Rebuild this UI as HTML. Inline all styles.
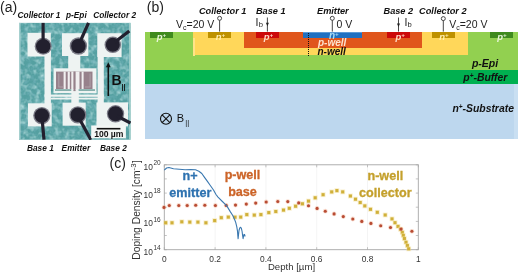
<!DOCTYPE html>
<html><head><meta charset="utf-8">
<style>
html,body{margin:0;padding:0;background:#fff;}
body{width:520px;height:273px;position:relative;overflow:hidden;font-family:"Liberation Sans",Arial,sans-serif;}
.a{position:absolute;white-space:nowrap;line-height:1;}
.lbl{font-weight:bold;font-style:italic;color:#111;}
.tk{font-family:"Liberation Sans",Arial,sans-serif;font-size:8.4px;fill:#333;}
.tks{font-family:"Liberation Sans",Arial,sans-serif;font-size:6.5px;fill:#333;}
.an{font-family:"Liberation Sans",Arial,sans-serif;font-weight:bold;font-size:12.6px;stroke-width:0.3px;}
.ly{position:absolute;}
</style></head><body>
<!-- panel labels -->
<div class="a" style="left:0px;top:-0.5px;font-size:14px;color:#222;">(a)</div>
<div class="a" style="left:146.8px;top:-0.3px;font-size:14px;color:#222;">(b)</div>
<div class="a" style="left:109.6px;top:156px;font-size:14px;color:#222;">(c)</div>

<!-- (a) labels -->
<div class="a lbl" style="left:17.6px;top:11.1px;font-size:8.3px;">Collector 1</div>
<div class="a lbl" style="left:66px;top:11.1px;font-size:8.3px;">p-Epi</div>
<div class="a lbl" style="left:93.2px;top:11.1px;font-size:8.3px;">Collector 2</div>
<div class="a lbl" style="left:27px;top:143.9px;font-size:8.3px;">Base 1</div>
<div class="a lbl" style="left:61.6px;top:143.9px;font-size:8.3px;">Emitter</div>
<div class="a lbl" style="left:100px;top:143.9px;font-size:8.3px;">Base 2</div>

<!-- (a) micrograph -->
<svg class="a" style="left:19px;top:22px;filter:blur(0.35px)" width="112" height="118" viewBox="19 22 112 118">
<defs>
<filter id="tx" x="0" y="0" width="100%" height="100%">
<feTurbulence type="fractalNoise" baseFrequency="0.2" numOctaves="2" seed="3" result="n"/>
<feColorMatrix in="n" type="matrix" values="0 0 0 0 0.62  0 0 0 0 0.85  0 0 0 0 0.86  0 0 0 2.2 -0.95" result="c"/>
<feComposite in="c" in2="SourceGraphic" operator="in"/>
</filter>
<filter id="tx2" x="0" y="0" width="100%" height="100%">
<feTurbulence type="fractalNoise" baseFrequency="0.25" numOctaves="2" seed="11" result="n"/>
<feColorMatrix in="n" type="matrix" values="0 0 0 0 0.17  0 0 0 0 0.45  0 0 0 0 0.5  0 0 0 2.2 -0.95" result="c"/>
<feComposite in="c" in2="SourceGraphic" operator="in"/>
</filter>
</defs>
<rect x="19" y="22.9" width="111.5" height="116.8" fill="#55a0a1"/>
<rect x="19" y="22.9" width="111.5" height="116.8" fill="#55a0a1" filter="url(#tx)" opacity="0.75"/>
<rect x="19" y="22.9" width="111.5" height="116.8" fill="#55a0a1" filter="url(#tx2)" opacity="0.7"/>
<rect x="19" y="22.9" width="1.5" height="116.8" fill="#a6d0cf"/>
<rect x="129.2" y="22.9" width="1.3" height="116.8" fill="#a9d3ce"/>
<g fill="#eef3f2">
<rect x="27.5" y="32.8" width="23.3" height="23.7"/>
<rect x="44.5" y="50" width="6.4" height="55"/>
<rect x="62" y="33.2" width="26.3" height="22.8"/>
<rect x="68.2" y="50" width="12.1" height="20"/>
<rect x="97.3" y="33.2" width="24.3" height="23.8"/>
<rect x="97.6" y="50" width="6.2" height="54"/>
<rect x="53.5" y="68.3" width="43" height="24.9"/>
<rect x="44.5" y="94.5" width="28" height="2.3"/>
<rect x="77.9" y="94.5" width="25.9" height="2.3"/>
<rect x="50.8" y="97.6" width="21.7" height="1.9"/>
<rect x="77.9" y="97.6" width="21.1" height="1.9"/>
<rect x="71.3" y="88" width="7.5" height="16"/>
<rect x="27.9" y="103.3" width="23.8" height="23.1"/>
<rect x="62.6" y="102.6" width="23.1" height="23.1"/>
<rect x="96.5" y="102.4" width="31.5" height="24"/>
</g>
<rect x="56" y="71.6" width="36.5" height="17.4" fill="#97818b"/>
<rect x="73.4" y="71.6" width="2.2" height="19.5" fill="#97818b"/>
<g fill="#f1eff0">
<rect x="63.6" y="71.6" width="2.1" height="18"/>
<rect x="67.7" y="71.6" width="2.1" height="18"/>
<rect x="71.3" y="71.6" width="2.1" height="18"/>
<rect x="75.6" y="71.6" width="3.9" height="18"/>
<rect x="81.6" y="71.6" width="2" height="18"/>
</g>
<g fill="#afa0a8">
<rect x="58.3" y="73.5" width="1" height="13.5"/>
<rect x="58.3" y="86.5" width="5.3" height="1"/>
<rect x="89.6" y="73.5" width="1" height="13.5"/>
<rect x="85" y="86.5" width="5.6" height="1"/>
</g>
<g fill="#6d9f9b">
<rect x="55" y="89.3" width="16.3" height="1.5"/>
<rect x="78.6" y="89.3" width="16.4" height="1.5"/>
</g>
<g fill="#7a7a86">
<circle cx="43.2" cy="46.3" r="8.5"/>
<circle cx="78.4" cy="46" r="8.7"/>
<circle cx="112.8" cy="44.8" r="8.3"/>
<circle cx="41.8" cy="115.6" r="8.6"/>
<circle cx="77.8" cy="114.8" r="8.6"/>
<circle cx="115.5" cy="113.8" r="8.7"/>
</g>
<g fill="#22202e">
<circle cx="43.2" cy="46.3" r="7.2"/>
<circle cx="78.4" cy="46" r="7.3"/>
<circle cx="112.8" cy="44.8" r="7.0"/>
<circle cx="41.8" cy="115.6" r="7.3"/>
<circle cx="77.8" cy="114.8" r="7.3"/>
<circle cx="115.5" cy="113.8" r="7.5"/>
</g>
<g stroke="#22202e" stroke-width="3.2" stroke-linecap="butt" fill="none">
<line x1="43.1" y1="22.9" x2="43.1" y2="40"/>
<line x1="88.5" y1="22.9" x2="80" y2="42"/>
<line x1="129.3" y1="31" x2="115" y2="42"/>
<line x1="42" y1="118" x2="44" y2="139.7"/>
<line x1="79" y1="118" x2="90.8" y2="139.7"/>
<line x1="117" y1="116" x2="130.5" y2="123"/>
</g>
<line x1="108.3" y1="66" x2="108.3" y2="96" stroke="#111" stroke-width="1.6"/>
<polygon points="108.3,62.3 105.9,67.3 110.7,67.3" fill="#111"/>
<text x="111.6" y="84.5" font-family="Liberation Sans, Arial, sans-serif" font-weight="bold" font-size="14" fill="#111">B</text>
<text x="121.6" y="89.4" font-family="Liberation Sans, Arial, sans-serif" font-weight="bold" font-size="7" fill="#111">||</text>
<rect x="91.2" y="125.5" width="34.7" height="12.8" fill="#f4f7f5"/>
<rect x="96.7" y="127.9" width="23.7" height="1.6" fill="#111"/>
<text x="108.8" y="136.6" text-anchor="middle" font-family="Liberation Sans, Arial, sans-serif" font-weight="bold" font-size="8.6" fill="#111">100 µm</text>
</svg>

<!-- (b) cross section -->
<div class="ly" style="left:144.8px;top:31.6px;width:373.6px;height:38.6px;background:#92d050;"></div>
<div class="ly" style="left:144.8px;top:70.2px;width:373.6px;height:14.1px;background:#00b050;"></div>
<div class="ly" style="left:145px;top:84.3px;width:373.3px;height:54.3px;background:#bdd7ee;"></div>
<div class="ly" style="left:514px;top:84.3px;width:4.3px;height:54.3px;background:#c9dff2;"></div>
<div class="ly" style="left:193px;top:31.6px;width:274.8px;height:23.9px;background:#ffd75a;"></div>
<div class="ly" style="left:193px;top:38px;width:2px;height:17.5px;background:#ffe488;"></div>
<div class="ly" style="left:244.1px;top:31.6px;width:177.9px;height:16px;background:#e0561c;"></div>
<div class="ly" style="left:150.2px;top:31.6px;width:22.7px;height:6.5px;background:#3f8a1e;"></div>
<div class="ly" style="left:490.4px;top:31.6px;width:23.1px;height:6.5px;background:#3f8a1e;"></div>
<div class="ly" style="left:208.1px;top:31.6px;width:23.4px;height:6.5px;background:#be9100;"></div>
<div class="ly" style="left:431.9px;top:31.6px;width:22.7px;height:6.6px;background:#be9100;"></div>
<div class="ly" style="left:256.2px;top:31.6px;width:23px;height:6.5px;background:#cc0a0a;"></div>
<div class="ly" style="left:387px;top:31.6px;width:22.7px;height:6.5px;background:#cc0a0a;"></div>
<div class="ly" style="left:303.2px;top:31.6px;width:59px;height:6px;background:#1f70c1;"></div>
<div class="ly" style="left:303.2px;top:31.6px;width:59px;height:1px;background:#5c9ad6;"></div>
<!-- dotted line -->
<div class="ly" style="left:308px;top:32.5px;width:0;height:23px;border-left:1.2px dotted #111;"></div>

<!-- (b) labels -->
<div class="a lbl" style="left:198.89999999999998px;top:6.7px;font-size:9.2px;">Collector 1</div>
<div class="a lbl" style="left:255.89999999999998px;top:6.7px;font-size:9.2px;">Base 1</div>
<div class="a lbl" style="left:317.0px;top:6.7px;font-size:9.2px;">Emitter</div>
<div class="a lbl" style="left:383.5px;top:6.7px;font-size:9.2px;">Base 2</div>
<div class="a lbl" style="left:419.09999999999997px;top:6.7px;font-size:9.2px;">Collector 2</div>

<div class="a" style="left:176px;top:18.5px;font-size:10.5px;color:#222;">V<sub style="font-size:7px;vertical-align:-2px">c</sub>=20 V</div>
<div class="a" style="left:449.2px;top:18.5px;font-size:10.5px;color:#222;">V<sub style="font-size:7px;vertical-align:-2px">c</sub>=20 V</div>
<div class="a" style="left:336.5px;top:18.5px;font-size:10.5px;color:#222;">0 V</div>
<div class="a" style="left:255.6px;top:16.8px;font-size:10.5px;color:#222;">I<sub style="font-size:7.6px;vertical-align:-1.6px;margin-left:0.2px">b</sub></div>
<div class="a" style="left:404.5px;top:16.8px;font-size:10.5px;color:#222;">I<sub style="font-size:7.6px;vertical-align:-1.6px;margin-left:0.2px">b</sub></div>

<svg class="a" style="left:0;top:0" width="520" height="140" viewBox="0 0 520 140">
<g stroke="#333" stroke-width="0.9" fill="none">
<circle cx="219.6" cy="18.3" r="2"/><line x1="219.6" y1="20.3" x2="219.6" y2="31.6"/>
<circle cx="332.3" cy="18.3" r="2"/><line x1="332.3" y1="20.3" x2="332.3" y2="31.6"/>
<circle cx="443.3" cy="18.6" r="2"/><line x1="443.3" y1="20.6" x2="443.3" y2="31.6"/>
<line x1="267.4" y1="17.5" x2="267.4" y2="31.6"/>
<line x1="398.5" y1="17.5" x2="398.5" y2="31.6"/>
</g>
<g fill="#222">
<polygon points="265.9,22.8 268.9,22.8 267.4,26.2"/>
<polygon points="397,23.5 400,23.5 398.5,26.9"/>
</g>
<circle cx="166" cy="118.7" r="5.5" fill="none" stroke="#111" stroke-width="1.1"/>
<line x1="162.1" y1="114.8" x2="169.9" y2="122.6" stroke="#111" stroke-width="1.1"/>
<line x1="169.9" y1="114.8" x2="162.1" y2="122.6" stroke="#111" stroke-width="1.1"/>
</svg>
<div class="a" style="left:176.8px;top:113.3px;font-size:11px;color:#111;">B<sub style="font-size:7.5px;vertical-align:-3px;margin-left:1.2px">||</sub></div>

<!-- labels inside layers -->
<div class="a lbl" style="left:156.8px;top:32px;font-size:9.5px;color:#eaf6dc;">p<sup style="font-size:6px;vertical-align:3px">+</sup></div>
<div class="a lbl" style="left:497.3px;top:32px;font-size:9.5px;color:#eaf6dc;">p<sup style="font-size:6px;vertical-align:3px">+</sup></div>
<div class="a lbl" style="left:215.8px;top:31.5px;font-size:9.5px;color:#ffeeb0;">n<sup style="font-size:6px;vertical-align:3px">+</sup></div>
<div class="a lbl" style="left:439.3px;top:31.5px;font-size:9.5px;color:#ffeeb0;">n<sup style="font-size:6px;vertical-align:3px">+</sup></div>
<div class="a lbl" style="left:263.8px;top:32px;font-size:9.5px;color:#ffdcc8;">p<sup style="font-size:6px;vertical-align:3px">+</sup></div>
<div class="a lbl" style="left:395.4px;top:32px;font-size:9.5px;color:#ffdcc8;">p<sup style="font-size:6px;vertical-align:3px">+</sup></div>
<div class="a lbl" style="left:329px;top:30.5px;font-size:10px;color:#a8dcf5;">n<sup style="font-size:6px;vertical-align:3px">+</sup></div>
<div class="a lbl" style="left:318px;top:37.5px;font-size:10px;color:#fde2cf;">p-well</div>
<div class="a lbl" style="left:317.5px;top:46.5px;font-size:10px;color:#111;">n-well</div>
<div class="a lbl" style="left:471.9px;top:57.8px;font-size:10.5px;color:#111;">p-Epi</div>
<div class="a lbl" style="left:463.3px;top:73.4px;font-size:10.4px;color:#111;">p<sup style="font-size:6.5px;vertical-align:3px">+</sup>-Buffer</div>
<div class="a lbl" style="left:452.4px;top:104px;font-size:10.4px;color:#111;">n<sup style="font-size:6.5px;vertical-align:3px">+</sup>-Substrate</div>

<!-- (c) plot -->
<svg class="a" style="left:0;top:140px" width="520" height="133" viewBox="0 140 520 133">
<line x1="215.1" y1="164.8" x2="215.1" y2="249.7" stroke="#f1f1f1" stroke-width="0.8"/>
<line x1="265.9" y1="164.8" x2="265.9" y2="249.7" stroke="#f1f1f1" stroke-width="0.8"/>
<line x1="316.7" y1="164.8" x2="316.7" y2="249.7" stroke="#f1f1f1" stroke-width="0.8"/>
<line x1="367.5" y1="164.8" x2="367.5" y2="249.7" stroke="#f1f1f1" stroke-width="0.8"/>
<line x1="164.3" y1="249.7" x2="164.3" y2="247.2" stroke="#aaa" stroke-width="0.7"/>
<line x1="164.3" y1="164.8" x2="164.3" y2="167.3" stroke="#aaa" stroke-width="0.7"/>
<line x1="215.1" y1="249.7" x2="215.1" y2="247.2" stroke="#aaa" stroke-width="0.7"/>
<line x1="215.1" y1="164.8" x2="215.1" y2="167.3" stroke="#aaa" stroke-width="0.7"/>
<line x1="265.9" y1="249.7" x2="265.9" y2="247.2" stroke="#aaa" stroke-width="0.7"/>
<line x1="265.9" y1="164.8" x2="265.9" y2="167.3" stroke="#aaa" stroke-width="0.7"/>
<line x1="316.7" y1="249.7" x2="316.7" y2="247.2" stroke="#aaa" stroke-width="0.7"/>
<line x1="316.7" y1="164.8" x2="316.7" y2="167.3" stroke="#aaa" stroke-width="0.7"/>
<line x1="367.5" y1="249.7" x2="367.5" y2="247.2" stroke="#aaa" stroke-width="0.7"/>
<line x1="367.5" y1="164.8" x2="367.5" y2="167.3" stroke="#aaa" stroke-width="0.7"/>
<line x1="418.3" y1="249.7" x2="418.3" y2="247.2" stroke="#aaa" stroke-width="0.7"/>
<line x1="418.3" y1="164.8" x2="418.3" y2="167.3" stroke="#aaa" stroke-width="0.7"/>
<line x1="164.3" y1="249.7" x2="166.8" y2="249.7" stroke="#aaa" stroke-width="0.7"/>
<line x1="418.3" y1="249.7" x2="415.8" y2="249.7" stroke="#aaa" stroke-width="0.7"/>
<line x1="164.3" y1="235.5" x2="166.8" y2="235.5" stroke="#aaa" stroke-width="0.7"/>
<line x1="418.3" y1="235.5" x2="415.8" y2="235.5" stroke="#aaa" stroke-width="0.7"/>
<line x1="164.3" y1="221.4" x2="166.8" y2="221.4" stroke="#aaa" stroke-width="0.7"/>
<line x1="418.3" y1="221.4" x2="415.8" y2="221.4" stroke="#aaa" stroke-width="0.7"/>
<line x1="164.3" y1="207.2" x2="166.8" y2="207.2" stroke="#aaa" stroke-width="0.7"/>
<line x1="418.3" y1="207.2" x2="415.8" y2="207.2" stroke="#aaa" stroke-width="0.7"/>
<line x1="164.3" y1="193.1" x2="166.8" y2="193.1" stroke="#aaa" stroke-width="0.7"/>
<line x1="418.3" y1="193.1" x2="415.8" y2="193.1" stroke="#aaa" stroke-width="0.7"/>
<line x1="164.3" y1="178.9" x2="166.8" y2="178.9" stroke="#aaa" stroke-width="0.7"/>
<line x1="418.3" y1="178.9" x2="415.8" y2="178.9" stroke="#aaa" stroke-width="0.7"/>
<line x1="164.3" y1="164.8" x2="166.8" y2="164.8" stroke="#aaa" stroke-width="0.7"/>
<line x1="418.3" y1="164.8" x2="415.8" y2="164.8" stroke="#aaa" stroke-width="0.7"/>
<rect x="164.3" y="164.8" width="254.0" height="84.9" fill="none" stroke="#a6a6a6" stroke-width="0.9"/>
<rect x="163.30" y="220.40" width="4.8" height="4.8" fill="#f4e09a" opacity="0.5"/>
<rect x="164.15" y="221.25" width="3.1" height="3.1" fill="#d0b03a"/>
<rect x="169.60" y="220.40" width="4.8" height="4.8" fill="#f4e09a" opacity="0.5"/>
<rect x="170.45" y="221.25" width="3.1" height="3.1" fill="#d0b03a"/>
<rect x="179.40" y="219.40" width="4.8" height="4.8" fill="#f4e09a" opacity="0.5"/>
<rect x="180.25" y="220.25" width="3.1" height="3.1" fill="#d0b03a"/>
<rect x="187.40" y="219.70" width="4.8" height="4.8" fill="#f4e09a" opacity="0.5"/>
<rect x="188.25" y="220.55" width="3.1" height="3.1" fill="#d0b03a"/>
<rect x="195.50" y="219.70" width="4.8" height="4.8" fill="#f4e09a" opacity="0.5"/>
<rect x="196.35" y="220.55" width="3.1" height="3.1" fill="#d0b03a"/>
<rect x="203.50" y="220.40" width="4.8" height="4.8" fill="#f4e09a" opacity="0.5"/>
<rect x="204.35" y="221.25" width="3.1" height="3.1" fill="#d0b03a"/>
<rect x="212.30" y="218.20" width="4.8" height="4.8" fill="#f4e09a" opacity="0.5"/>
<rect x="213.15" y="219.05" width="3.1" height="3.1" fill="#d0b03a"/>
<rect x="218.90" y="215.30" width="4.8" height="4.8" fill="#f4e09a" opacity="0.5"/>
<rect x="219.75" y="216.15" width="3.1" height="3.1" fill="#d0b03a"/>
<rect x="225.90" y="214.70" width="4.8" height="4.8" fill="#f4e09a" opacity="0.5"/>
<rect x="226.75" y="215.55" width="3.1" height="3.1" fill="#d0b03a"/>
<rect x="232.60" y="214.80" width="4.8" height="4.8" fill="#f4e09a" opacity="0.5"/>
<rect x="233.45" y="215.65" width="3.1" height="3.1" fill="#d0b03a"/>
<rect x="238.30" y="214.70" width="4.8" height="4.8" fill="#f4e09a" opacity="0.5"/>
<rect x="239.15" y="215.55" width="3.1" height="3.1" fill="#d0b03a"/>
<rect x="244.40" y="212.20" width="4.8" height="4.8" fill="#f4e09a" opacity="0.5"/>
<rect x="245.25" y="213.05" width="3.1" height="3.1" fill="#d0b03a"/>
<rect x="251.90" y="212.70" width="4.8" height="4.8" fill="#f4e09a" opacity="0.5"/>
<rect x="252.75" y="213.55" width="3.1" height="3.1" fill="#d0b03a"/>
<rect x="258.50" y="212.20" width="4.8" height="4.8" fill="#f4e09a" opacity="0.5"/>
<rect x="259.35" y="213.05" width="3.1" height="3.1" fill="#d0b03a"/>
<rect x="266.40" y="210.20" width="4.8" height="4.8" fill="#f4e09a" opacity="0.5"/>
<rect x="267.25" y="211.05" width="3.1" height="3.1" fill="#d0b03a"/>
<rect x="273.40" y="209.10" width="4.8" height="4.8" fill="#f4e09a" opacity="0.5"/>
<rect x="274.25" y="209.95" width="3.1" height="3.1" fill="#d0b03a"/>
<rect x="281.10" y="207.70" width="4.8" height="4.8" fill="#f4e09a" opacity="0.5"/>
<rect x="281.95" y="208.55" width="3.1" height="3.1" fill="#d0b03a"/>
<rect x="286.90" y="205.90" width="4.8" height="4.8" fill="#f4e09a" opacity="0.5"/>
<rect x="287.75" y="206.75" width="3.1" height="3.1" fill="#d0b03a"/>
<rect x="293.20" y="203.80" width="4.8" height="4.8" fill="#f4e09a" opacity="0.5"/>
<rect x="294.05" y="204.65" width="3.1" height="3.1" fill="#d0b03a"/>
<rect x="300.00" y="201.40" width="4.8" height="4.8" fill="#f4e09a" opacity="0.5"/>
<rect x="300.85" y="202.25" width="3.1" height="3.1" fill="#d0b03a"/>
<rect x="306.10" y="198.70" width="4.8" height="4.8" fill="#f4e09a" opacity="0.5"/>
<rect x="306.95" y="199.55" width="3.1" height="3.1" fill="#d0b03a"/>
<rect x="312.80" y="195.40" width="4.8" height="4.8" fill="#f4e09a" opacity="0.5"/>
<rect x="313.65" y="196.25" width="3.1" height="3.1" fill="#d0b03a"/>
<rect x="320.70" y="192.30" width="4.8" height="4.8" fill="#f4e09a" opacity="0.5"/>
<rect x="321.55" y="193.15" width="3.1" height="3.1" fill="#d0b03a"/>
<rect x="329.30" y="189.50" width="4.8" height="4.8" fill="#f4e09a" opacity="0.5"/>
<rect x="330.15" y="190.35" width="3.1" height="3.1" fill="#d0b03a"/>
<rect x="334.50" y="188.20" width="4.8" height="4.8" fill="#f4e09a" opacity="0.5"/>
<rect x="335.35" y="189.05" width="3.1" height="3.1" fill="#d0b03a"/>
<rect x="340.30" y="189.50" width="4.8" height="4.8" fill="#f4e09a" opacity="0.5"/>
<rect x="341.15" y="190.35" width="3.1" height="3.1" fill="#d0b03a"/>
<rect x="348.00" y="193.60" width="4.8" height="4.8" fill="#f4e09a" opacity="0.5"/>
<rect x="348.85" y="194.45" width="3.1" height="3.1" fill="#d0b03a"/>
<rect x="353.10" y="196.80" width="4.8" height="4.8" fill="#f4e09a" opacity="0.5"/>
<rect x="353.95" y="197.65" width="3.1" height="3.1" fill="#d0b03a"/>
<rect x="357.80" y="200.10" width="4.8" height="4.8" fill="#f4e09a" opacity="0.5"/>
<rect x="358.65" y="200.95" width="3.1" height="3.1" fill="#d0b03a"/>
<rect x="362.40" y="203.50" width="4.8" height="4.8" fill="#f4e09a" opacity="0.5"/>
<rect x="363.25" y="204.35" width="3.1" height="3.1" fill="#d0b03a"/>
<rect x="368.10" y="206.90" width="4.8" height="4.8" fill="#f4e09a" opacity="0.5"/>
<rect x="368.95" y="207.75" width="3.1" height="3.1" fill="#d0b03a"/>
<rect x="374.90" y="209.90" width="4.8" height="4.8" fill="#f4e09a" opacity="0.5"/>
<rect x="375.75" y="210.75" width="3.1" height="3.1" fill="#d0b03a"/>
<rect x="382.80" y="212.60" width="4.8" height="4.8" fill="#f4e09a" opacity="0.5"/>
<rect x="383.65" y="213.45" width="3.1" height="3.1" fill="#d0b03a"/>
<rect x="389.60" y="216.50" width="4.8" height="4.8" fill="#f4e09a" opacity="0.5"/>
<rect x="390.45" y="217.35" width="3.1" height="3.1" fill="#d0b03a"/>
<rect x="392.60" y="220.30" width="4.8" height="4.8" fill="#f4e09a" opacity="0.5"/>
<rect x="393.45" y="221.15" width="3.1" height="3.1" fill="#d0b03a"/>
<rect x="395.60" y="224.00" width="4.8" height="4.8" fill="#f4e09a" opacity="0.5"/>
<rect x="396.45" y="224.85" width="3.1" height="3.1" fill="#d0b03a"/>
<rect x="398.10" y="226.90" width="4.8" height="4.8" fill="#f4e09a" opacity="0.5"/>
<rect x="398.95" y="227.75" width="3.1" height="3.1" fill="#d0b03a"/>
<rect x="399.90" y="230.00" width="4.8" height="4.8" fill="#f4e09a" opacity="0.5"/>
<rect x="400.75" y="230.85" width="3.1" height="3.1" fill="#d0b03a"/>
<rect x="400.90" y="233.10" width="4.8" height="4.8" fill="#f4e09a" opacity="0.5"/>
<rect x="401.75" y="233.95" width="3.1" height="3.1" fill="#d0b03a"/>
<rect x="402.00" y="236.20" width="4.8" height="4.8" fill="#f4e09a" opacity="0.5"/>
<rect x="402.85" y="237.05" width="3.1" height="3.1" fill="#d0b03a"/>
<rect x="403.60" y="239.90" width="4.8" height="4.8" fill="#f4e09a" opacity="0.5"/>
<rect x="404.45" y="240.75" width="3.1" height="3.1" fill="#d0b03a"/>
<rect x="405.00" y="243.20" width="4.8" height="4.8" fill="#f4e09a" opacity="0.5"/>
<rect x="405.85" y="244.05" width="3.1" height="3.1" fill="#d0b03a"/>
<rect x="406.30" y="246.40" width="4.8" height="4.8" fill="#f4e09a" opacity="0.5"/>
<rect x="407.15" y="247.25" width="3.1" height="3.1" fill="#d0b03a"/>
<circle cx="164.0" cy="207.4" r="2.4" fill="#f2b496" opacity="0.45"/>
<circle cx="164.0" cy="207.4" r="1.55" fill="#b84c34"/>
<circle cx="169.3" cy="205.5" r="2.4" fill="#f2b496" opacity="0.45"/>
<circle cx="169.3" cy="205.5" r="1.55" fill="#b84c34"/>
<circle cx="178.8" cy="205.5" r="2.4" fill="#f2b496" opacity="0.45"/>
<circle cx="178.8" cy="205.5" r="1.55" fill="#b84c34"/>
<circle cx="187.2" cy="205.5" r="2.4" fill="#f2b496" opacity="0.45"/>
<circle cx="187.2" cy="205.5" r="1.55" fill="#b84c34"/>
<circle cx="195.7" cy="205.2" r="2.4" fill="#f2b496" opacity="0.45"/>
<circle cx="195.7" cy="205.2" r="1.55" fill="#b84c34"/>
<circle cx="204.8" cy="205.2" r="2.4" fill="#f2b496" opacity="0.45"/>
<circle cx="204.8" cy="205.2" r="1.55" fill="#b84c34"/>
<circle cx="215.4" cy="205.5" r="2.4" fill="#f2b496" opacity="0.45"/>
<circle cx="215.4" cy="205.5" r="1.55" fill="#b84c34"/>
<circle cx="226.2" cy="205.4" r="2.4" fill="#f2b496" opacity="0.45"/>
<circle cx="226.2" cy="205.4" r="1.55" fill="#b84c34"/>
<circle cx="235.5" cy="205.1" r="2.4" fill="#f2b496" opacity="0.45"/>
<circle cx="235.5" cy="205.1" r="1.55" fill="#b84c34"/>
<circle cx="246.3" cy="204.1" r="2.4" fill="#f2b496" opacity="0.45"/>
<circle cx="246.3" cy="204.1" r="1.55" fill="#b84c34"/>
<circle cx="255.7" cy="203.1" r="2.4" fill="#f2b496" opacity="0.45"/>
<circle cx="255.7" cy="203.1" r="1.55" fill="#b84c34"/>
<circle cx="266.2" cy="202.0" r="2.4" fill="#f2b496" opacity="0.45"/>
<circle cx="266.2" cy="202.0" r="1.55" fill="#b84c34"/>
<circle cx="277.8" cy="201.5" r="2.4" fill="#f2b496" opacity="0.45"/>
<circle cx="277.8" cy="201.5" r="1.55" fill="#b84c34"/>
<circle cx="287.8" cy="201.6" r="2.4" fill="#f2b496" opacity="0.45"/>
<circle cx="287.8" cy="201.6" r="1.55" fill="#b84c34"/>
<circle cx="298.7" cy="202.9" r="2.4" fill="#f2b496" opacity="0.45"/>
<circle cx="298.7" cy="202.9" r="1.55" fill="#b84c34"/>
<circle cx="308.5" cy="205.7" r="2.4" fill="#f2b496" opacity="0.45"/>
<circle cx="308.5" cy="205.7" r="1.55" fill="#b84c34"/>
<circle cx="317.1" cy="208.4" r="2.4" fill="#f2b496" opacity="0.45"/>
<circle cx="317.1" cy="208.4" r="1.55" fill="#b84c34"/>
<circle cx="325.3" cy="211.2" r="2.4" fill="#f2b496" opacity="0.45"/>
<circle cx="325.3" cy="211.2" r="1.55" fill="#b84c34"/>
<circle cx="334.1" cy="213.9" r="2.4" fill="#f2b496" opacity="0.45"/>
<circle cx="334.1" cy="213.9" r="1.55" fill="#b84c34"/>
<circle cx="343.3" cy="216.6" r="2.4" fill="#f2b496" opacity="0.45"/>
<circle cx="343.3" cy="216.6" r="1.55" fill="#b84c34"/>
<circle cx="352.8" cy="219.0" r="2.4" fill="#f2b496" opacity="0.45"/>
<circle cx="352.8" cy="219.0" r="1.55" fill="#b84c34"/>
<circle cx="361.8" cy="221.4" r="2.4" fill="#f2b496" opacity="0.45"/>
<circle cx="361.8" cy="221.4" r="1.55" fill="#b84c34"/>
<circle cx="370.9" cy="223.4" r="2.4" fill="#f2b496" opacity="0.45"/>
<circle cx="370.9" cy="223.4" r="1.55" fill="#b84c34"/>
<circle cx="380.7" cy="225.7" r="2.4" fill="#f2b496" opacity="0.45"/>
<circle cx="380.7" cy="225.7" r="1.55" fill="#b84c34"/>
<circle cx="390.5" cy="227.5" r="2.4" fill="#f2b496" opacity="0.45"/>
<circle cx="390.5" cy="227.5" r="1.55" fill="#b84c34"/>
<circle cx="401.1" cy="229.1" r="2.4" fill="#f2b496" opacity="0.45"/>
<circle cx="401.1" cy="229.1" r="1.55" fill="#b84c34"/>
<circle cx="411.9" cy="231.3" r="2.4" fill="#f2b496" opacity="0.45"/>
<circle cx="411.9" cy="231.3" r="1.55" fill="#b84c34"/>
<polyline points="164.3,170.1 166.6,168.0 168.9,167.5 173.5,168.7 179.3,169.2 185.1,169.8 190.8,169.5 195.5,169.8 198.9,171.2 201.8,173.5 204.7,177.6 207.6,181.6 210.5,185.7 213.5,190.0 216.0,194.5 218.0,197.1 222.4,201.5 226.8,205.9 230.1,211.4 232.9,215.8 234.6,219.5 235.7,222.4 236.8,226.8 237.5,231.2 237.8,235.5 238.1,238.8 238.5,235 239.0,230.5 239.8,227.9 240.6,227.3 241.4,228.4 242.1,231.5 242.6,235.5 243.1,238.6 243.5,236.3 244.0,234.4 244.6,234.6 245.1,236.5" fill="none" stroke="#3a78b0" stroke-width="1.1" stroke-linejoin="round"/>
<text x="164.3" y="262.3" text-anchor="middle" class="tk">0</text>
<text x="215.1" y="262.3" text-anchor="middle" class="tk">0.2</text>
<text x="265.9" y="262.3" text-anchor="middle" class="tk">0.4</text>
<text x="316.7" y="262.3" text-anchor="middle" class="tk">0.6</text>
<text x="367.5" y="262.3" text-anchor="middle" class="tk">0.8</text>
<text x="418.3" y="262.3" text-anchor="middle" class="tk">1</text>
<text x="152.8" y="169.6" text-anchor="end" class="tk">10</text><text x="153.4" y="165.1" class="tks">20</text>
<text x="152.8" y="197.9" text-anchor="end" class="tk">10</text><text x="153.4" y="193.4" class="tks">18</text>
<text x="152.8" y="226.2" text-anchor="end" class="tk">10</text><text x="153.4" y="221.7" class="tks">16</text>
<text x="152.8" y="254.5" text-anchor="end" class="tk">10</text><text x="153.4" y="250.0" class="tks">14</text>
<text class="tk" x="291.5" y="270.2" text-anchor="middle" style="font-size:9.6px">Depth [µm]</text>
<text class="tk" transform="translate(139.6,210.0) rotate(-90)" text-anchor="middle" style="font-size:10.3px">Doping Density [cm<tspan dy="-3.8" style="font-size:8px">-3</tspan><tspan dy="3.8" dx="0.3">]</tspan></text>
<text class="an" x="190" y="180.2" text-anchor="middle" fill="#2e72b0" stroke="#2e72b0">n+</text>
<text class="an" x="190.3" y="197.1" text-anchor="middle" fill="#2e72b0" stroke="#2e72b0">emitter</text>
<text class="an" x="242.5" y="178.7" text-anchor="middle" fill="#cc6428" stroke="#cc6428">p-well</text>
<text class="an" x="242.5" y="195.7" text-anchor="middle" fill="#cc6428" stroke="#cc6428">base</text>
<text class="an" x="385.3" y="180.1" text-anchor="middle" fill="#c4a02c" stroke="#c4a02c">n-well</text>
<text class="an" x="385.3" y="197.2" text-anchor="middle" fill="#c4a02c" stroke="#c4a02c">collector</text>
</svg>
</body></html>
